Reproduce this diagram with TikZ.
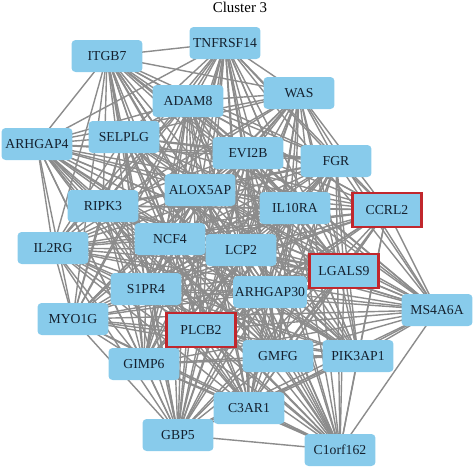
\documentclass[tikz,border=0pt]{standalone}
\usepackage{fontspec}
\setmainfont{Liberation Serif}
\usetikzlibrary{backgrounds}
\definecolor{Sky}{HTML}{88CBEB}
\definecolor{Ink}{HTML}{14202E}
\definecolor{Wire}{HTML}{8C8C8C}
\definecolor{Seed}{HTML}{C1272D}
\tikzset{
  gene/.style={rounded corners=2.3pt, fill=Sky, text=Ink, minimum width=1.42cm, minimum height=0.64cm, inner sep=1pt, font=\fontsize{7.8}{9}\selectfont},
  seed/.style={gene, rounded corners=0pt, draw=Seed, line width=1.6pt, minimum width=1.38cm, minimum height=0.68cm},
  wire/.style={draw=Wire, line width=0.8pt}
}

\begin{document}
\begin{tikzpicture}[x=0.02cm, y=-0.02cm]
\useasboundingbox (0,0) rectangle (474,467);
\node[font=\fontsize{8.5}{10}\selectfont] (title) at (240,7) {Cluster 3};
% genes
\node[gene] (ITGB7) at (107,56) {ITGB7};
\node[gene] (TNFRSF14) at (225,43) {TNFRSF14};
\node[gene] (WAS) at (299,93) {WAS};
\node[gene] (ADAM8) at (188,101) {ADAM8};
\node[gene] (ARHGAP4) at (37,144) {ARHGAP4};
\node[gene] (SELPLG) at (124,137) {SELPLG};
\node[gene] (EVI2B) at (248,153) {EVI2B};
\node[gene] (FGR) at (336,161) {FGR};
\node[gene] (ALOX5AP) at (200,190) {ALOX5AP};
\node[gene] (RIPK3) at (103,206) {RIPK3};
\node[gene] (IL10RA) at (295,208) {IL10RA};
\node[seed] (CCRL2) at (387,210) {CCRL2};
\node[gene] (IL2RG) at (53,248) {IL2RG};
\node[gene] (NCF4) at (170,239) {NCF4};
\node[gene] (LCP2) at (241,250) {LCP2};
\node[seed] (LGALS9) at (344,271) {LGALS9};
\node[gene] (S1PR4) at (146,289) {S1PR4};
\node[gene] (ARHGAP30) at (270,292) {ARHGAP30};
\node[gene] (MYO1G) at (73,319) {MYO1G};
\node[gene] (MS4A6A) at (437,310) {MS4A6A};
\node[seed] (PLCB2) at (201,330) {PLCB2};
\node[gene] (GIMP6) at (144,364) {GIMP6};
\node[gene] (GMFG) at (278,356) {GMFG};
\node[gene] (PIK3AP1) at (358,356) {PIK3AP1};
\node[gene] (C3AR1) at (249,408) {C3AR1};
\node[gene] (GBP5) at (178,435) {GBP5};
\node[gene] (C1orf162) at (340,450) {C1orf162};
% interactions
\begin{pgfonlayer}{background}
\foreach \a [count=\i] in {ITGB7,TNFRSF14,WAS,ADAM8,ARHGAP4,SELPLG,EVI2B,FGR,ALOX5AP,RIPK3,IL10RA,CCRL2,IL2RG,NCF4,LCP2,LGALS9,S1PR4,ARHGAP30,MYO1G,MS4A6A,PLCB2,GIMP6,GMFG,PIK3AP1,C3AR1,GBP5,C1orf162}
  \foreach \b [count=\j] in {ITGB7,TNFRSF14,WAS,ADAM8,ARHGAP4,SELPLG,EVI2B,FGR,ALOX5AP,RIPK3,IL10RA,CCRL2,IL2RG,NCF4,LCP2,LGALS9,S1PR4,ARHGAP30,MYO1G,MS4A6A,PLCB2,GIMP6,GMFG,PIK3AP1,C3AR1,GBP5,C1orf162}
    {\ifnum\j>\i \draw[wire] (\a.center) -- (\b.center);\fi}
\end{pgfonlayer}
\end{tikzpicture}
\end{document}
